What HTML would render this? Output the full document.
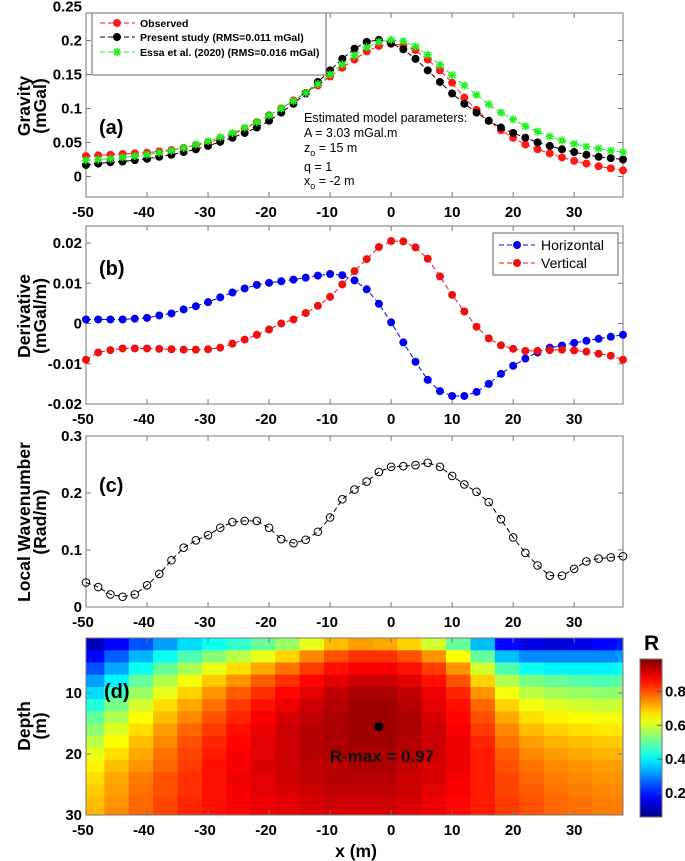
<!DOCTYPE html>
<html><head><meta charset="utf-8">
<style>
html,body{margin:0;padding:0;background:#fff;}
svg{display:block;font-family:"Liberation Sans",Arial,sans-serif;}
</style></head>
<body>
<svg id="fig" width="685" height="861" viewBox="0 0 685 861" xmlns="http://www.w3.org/2000/svg"></svg>
<script>
// ---------- data ----------
const xs = [-50,-48,-46,-44,-42,-40,-38,-36,-34,-32,-30,-28,-26,-24,-22,-20,-18,-16,-14,-12,-10,-8,-6,-4,-2,0,2,4,6,8,10,12,14,16,18,20,22,24,26,28,30,32,34,36,38];
const gObserved = [0.030,0.031,0.032,0.033,0.034,0.035,0.037,0.039,0.042,0.046,0.050,0.055,0.062,0.070,0.080,0.090,0.100,0.112,0.123,0.134,0.147,0.160,0.172,0.184,0.192,0.195,0.193,0.186,0.172,0.156,0.138,0.116,0.098,0.082,0.068,0.057,0.047,0.040,0.034,0.028,0.023,0.019,0.015,0.012,0.009];
const gPresent = [0.017,0.019,0.021,0.022,0.024,0.026,0.029,0.032,0.036,0.040,0.045,0.051,0.057,0.064,0.072,0.082,0.094,0.107,0.122,0.139,0.156,0.173,0.188,0.198,0.201,0.196,0.187,0.173,0.156,0.139,0.122,0.107,0.094,0.082,0.072,0.064,0.057,0.050,0.045,0.040,0.036,0.032,0.029,0.027,0.025];
const gEssa = [0.024,0.025,0.026,0.028,0.030,0.032,0.035,0.038,0.042,0.047,0.052,0.058,0.064,0.072,0.080,0.090,0.100,0.111,0.123,0.136,0.150,0.165,0.178,0.190,0.198,0.201,0.199,0.191,0.179,0.164,0.149,0.134,0.120,0.106,0.094,0.084,0.074,0.066,0.059,0.053,0.048,0.044,0.041,0.038,0.036];
const dHorizontal = [0.001,0.001,0.001,0.001,0.0012,0.0014,0.002,0.0025,0.0035,0.0043,0.0053,0.0065,0.0077,0.0087,0.0096,0.0101,0.0105,0.0109,0.0114,0.0119,0.0123,0.0120,0.0107,0.0085,0.0049,0.0003,-0.0047,-0.0095,-0.014,-0.0168,-0.018,-0.018,-0.017,-0.015,-0.0125,-0.0105,-0.0087,-0.0072,-0.006,-0.0055,-0.0048,-0.0043,-0.0038,-0.0033,-0.0028];
const dVertical = [-0.009,-0.0072,-0.0066,-0.0062,-0.0062,-0.0062,-0.0063,-0.0064,-0.0065,-0.0065,-0.0064,-0.006,-0.005,-0.004,-0.0028,-0.0015,0,0.001,0.0026,0.0044,0.0066,0.0097,0.013,0.016,0.019,0.0205,0.0204,0.0189,0.0161,0.0117,0.0071,0.003,-0.0008,-0.0037,-0.0054,-0.0063,-0.0068,-0.0068,-0.0066,-0.0065,-0.0067,-0.007,-0.0075,-0.008,-0.009];
const wavenumber = [0.043,0.035,0.022,0.018,0.022,0.038,0.058,0.082,0.104,0.117,0.126,0.139,0.149,0.151,0.151,0.139,0.119,0.112,0.118,0.132,0.157,0.189,0.206,0.220,0.237,0.246,0.247,0.249,0.253,0.246,0.230,0.215,0.202,0.184,0.154,0.122,0.095,0.073,0.055,0.055,0.067,0.080,0.085,0.087,0.089];
const heatX = [-49,-45,-41,-37,-33,-29,-25,-21,-17,-13,-9,-5,-1,3,7,11,15,19,23,27,31,35,39];
const heatDepth = [2,4,6,8,10,12,14,16,18,20,22,24,26,28,30];
const heatR = [
[.12,.18,.25,.32,.38,.42,.45,.5,.55,.62,.7,.73,.72,.68,.6,.5,.35,.18,.15,.14,.15,.18,.2],
[.18,.26,.34,.42,.48,.53,.58,.62,.68,.75,.8,.83,.83,.8,.74,.64,.5,.35,.3,.3,.3,.3,.32],
[.25,.33,.42,.5,.56,.62,.67,.72,.77,.82,.86,.88,.88,.86,.82,.74,.6,.48,.42,.4,.4,.4,.42],
[.32,.4,.5,.57,.63,.69,.74,.79,.83,.87,.9,.92,.92,.9,.86,.8,.68,.57,.52,.5,.49,.48,.5],
[.38,.46,.55,.62,.68,.74,.79,.83,.87,.9,.93,.95,.95,.93,.89,.84,.74,.63,.58,.56,.55,.54,.55],
[.44,.52,.6,.67,.72,.77,.82,.86,.89,.92,.94,.96,.96,.94,.9,.86,.78,.68,.63,.61,.6,.59,.6],
[.5,.57,.64,.7,.75,.8,.84,.88,.91,.93,.95,.96,.96,.95,.91,.87,.8,.72,.67,.65,.64,.63,.63],
[.54,.61,.67,.73,.78,.82,.86,.89,.92,.94,.95,.96,.96,.95,.92,.88,.82,.75,.7,.68,.67,.66,.66],
[.58,.64,.7,.75,.8,.84,.87,.9,.92,.94,.95,.96,.96,.94,.92,.89,.84,.77,.73,.71,.7,.69,.69],
[.62,.67,.72,.77,.81,.85,.88,.9,.92,.94,.95,.95,.95,.94,.92,.89,.85,.79,.75,.73,.72,.71,.71],
[.65,.7,.74,.78,.82,.86,.88,.91,.92,.93,.94,.95,.95,.93,.91,.89,.85,.8,.77,.75,.74,.73,.73],
[.67,.72,.76,.8,.83,.86,.89,.9,.92,.93,.94,.94,.94,.92,.91,.88,.85,.81,.78,.76,.75,.74,.74],
[.69,.73,.77,.8,.83,.86,.88,.9,.91,.92,.93,.93,.93,.92,.9,.88,.85,.81,.79,.77,.76,.75,.75],
[.7,.74,.78,.81,.84,.86,.88,.89,.9,.91,.92,.92,.92,.91,.89,.87,.85,.82,.8,.78,.77,.76,.76],
[.71,.75,.78,.81,.84,.86,.87,.89,.9,.91,.91,.91,.91,.9,.89,.87,.85,.82,.8,.78,.77,.76,.76]];
const rMaxPoint = [-2, 15.5];
const xTicks = [-50,-40,-30,-20,-10,0,10,20,30];
const aTicks = [0,0.05,0.1,0.15,0.2,0.25];
const bTicks = [-0.02,-0.01,0,0.01,0.02];
const cTicks = [0,0.1,0.2,0.3];
const dTicks = [10,20,30];
const cbTicks = [0.2,0.4,0.6,0.8];

// ---------- helpers ----------
const NS = "http://www.w3.org/2000/svg";
const svg = document.getElementById('fig');
function mk(tag, attrs, parent){ const e=document.createElementNS(NS,tag); for(const k in attrs) e.setAttribute(k,attrs[k]); (parent||svg).appendChild(e); return e; }
function txt(s, attrs, parent){ const e=mk('text',attrs,parent); e.textContent=s; return e; }
const L=86, R=623;
const X = v => L + (v+50)*(R-L)/88;
function lin(d0,d1,p0,p1){ return v => p0 + (v-d0)*(p1-p0)/(d1-d0); }
const Ya = lin(0,0.25,176.5,6.5);
const Yb = lin(-0.02,0.02,404,243);
const Yc = lin(0,0.3,607,436);
const Yd = lin(10,20,693,754);
const panels = {a:[13,197], b:[226,404], c:[436,607], d:[638,815]};

function jet(v){
  const t = Math.max(0,Math.min(1,(v-0.06)/(0.99-0.06)));
  const r = Math.max(0,Math.min(1,1.5-Math.abs(4*t-3)));
  const g = Math.max(0,Math.min(1,1.5-Math.abs(4*t-2)));
  const b = Math.max(0,Math.min(1,1.5-Math.abs(4*t-1)));
  return `rgb(${Math.round(r*255)},${Math.round(g*255)},${Math.round(b*255)})`;
}

function axes(key, Y, yt, fmt, labelLines, ylabCy, panelLetter, letterPos){
  const [top,bot]=panels[key];
  const g = mk('g',{});
  
  
  const box = mk('rect',{x:L,y:top,width:R-L,height:bot-top,fill:'none',stroke:'#777','stroke-width':1},g);
  
  
  xTicks.forEach(v=>{
    mk('line',{x1:X(v),x2:X(v),y1:bot,y2:bot-5,stroke:'#777'},g);
    mk('line',{x1:X(v),x2:X(v),y1:top,y2:top+5,stroke:'#777'},g);
    const t = txt(String(v),{x:X(v)-(v<0?3:0),y:bot+20,'font-size':15,'font-weight':'bold','text-anchor':'middle'},g);
    
    
  });
  yt.forEach(v=>{
    const y=Y(v);
    if(y>=top-0.5 && y<=bot+0.5){
      mk('line',{x1:L,x2:L+5,y1:y,y2:y,stroke:'#777'},g);
      mk('line',{x1:R,x2:R-5,y1:y,y2:y,stroke:'#777'},g);
    }
    const t = txt(fmt(v),{x:L-4,y:y+5,'font-size':15,'font-weight':'bold','text-anchor':'end'},g);
    
    
  });
  const yl = mk('text',{transform:`translate(0,${ylabCy}) rotate(-90)`,'font-size':17.5,'font-weight':'bold','text-anchor':'middle'},g);
  
  
  labelLines.forEach((s,i)=>{ const ts=mk('tspan',{x:0,y:30+i*16},yl); ts.textContent=s; });
  const pl = txt(panelLetter,{x:letterPos[0],y:letterPos[1],'font-size':20,'font-weight':'bold'},g);
  
  
  return g;
}
const f2 = v => v===0?'0':String(v);

// ---------- panel d heatmap ----------
const gd = axes('d', Yd, dTicks, f2, ['Depth','(m)'], 726, '', [0,0]);
const heat = mk('g',{});  
svg.insertBefore(heat, gd);
const cp = mk('clipPath',{id:'clipd'}); mk('rect',{x:L,y:panels.d[0],width:R-L,height:panels.d[1]-panels.d[0]},cp);
heat.setAttribute('clip-path','url(#clipd)');
heatDepth.forEach((dep,j)=>{
  heatX.forEach((xv,i)=>{
    const x0=X(xv-2), x1=X(xv+2), y0=Yd(dep-1), y1=Yd(dep+1);
    const c = mk('rect',{x:x0,y:y0,width:x1-x0+0.6,height:y1-y0+0.6,fill:jet(heatR[j][i])},heat);
    
    
  });
});
const dl = txt('(d)',{x:104,y:698,'font-size':20,'font-weight':'bold'});
 
const dot = mk('circle',{cx:X(rMaxPoint[0]),cy:Yd(rMaxPoint[1]),r:4.5,fill:'#000'});
 
const rm = txt('R-max = 0.97',{x:382,y:762,'font-size':17,'text-anchor':'middle','font-weight':'bold','fill':'#111'});
 
const xt = txt('x (m)',{x:356,y:857,'font-size':17.5,'font-weight':'bold','text-anchor':'middle'});
 

// colorbar
const defs = mk('defs',{});
const lg = mk('linearGradient',{id:'jetg',x1:0,y1:1,x2:0,y2:0},defs);
for(let i=0;i<=20;i++){ const v=0.06+i*(0.93/20); mk('stop',{offset:(i/20),'stop-color':jet(v)},lg); }
const cbTop=659, cbBot=817;
const Ycb = lin(0.06,0.99,cbBot,cbTop);
const cb = mk('rect',{x:640,y:cbTop,width:22,height:cbBot-cbTop,fill:'url(#jetg)',stroke:'#777'});
 
cbTicks.forEach(v=>{
  mk('line',{x1:657,x2:662,y1:Ycb(v),y2:Ycb(v),stroke:'#555'});
  const t=txt(String(v),{x:665,y:Ycb(v)+5,'font-size':15,'font-weight':'bold'});
   
});
const rt = txt('R',{x:644,y:650,'font-size':21,'font-weight':'bold'});
 

// ---------- series helper ----------
function series(Y, vals, color, name, marker){
  const g = mk('g',{});
  
  
  const pts = xs.map((x,i)=>X(x)+','+Y(vals[i])).join(' ');
  mk('polyline',{points:pts,fill:'none',stroke:color,'stroke-width':1,'stroke-dasharray':'5,3'},g);
  xs.forEach((x,i)=>{
    const cx=X(x), cy=Y(vals[i]);
    let m;
    if(marker==='dot') m=mk('circle',{cx,cy,r:4,fill:color},g);
    else if(marker==='open') m=mk('circle',{cx,cy,r:3.8,fill:'none',stroke:color,'stroke-width':1},g);
    else { m=mk('path',{d:`M${cx-4},${cy}H${cx+4}M${cx},${cy-4}V${cy+4}M${cx-3},${cy-3}L${cx+3},${cy+3}M${cx-3},${cy+3}L${cx+3},${cy-3}`,stroke:color,'stroke-width':1.6},g); }
    
    
  });
}

// ---------- panel a ----------
axes('a', Ya, aTicks, f2, ['Gravity','(mGal)'], 106, '(a)', [99,134]);
series(Ya, gObserved, '#ff1a1a', 'series-observed', 'dot');
series(Ya, gPresent, '#000', 'series-present-study', 'dot');
series(Ya, gEssa, '#22ee22', 'series-essa-2020', 'star');
const legA = mk('g',{});  
mk('rect',{x:92,y:13,width:234,height:62,fill:'#fff',stroke:'#666'},legA);
[['Observed','#ff1a1a','dot',23],['Present study (RMS=0.011 mGal)','#000','dot',37],['Essa et al. (2020) (RMS=0.016 mGal)','#22ee22','star',52]].forEach(e=>{
  const g=mk('g',{},legA);  
  mk('line',{x1:100,x2:135,y1:e[3],y2:e[3],stroke:e[1],'stroke-dasharray':'5,3'},g);
  if(e[2]==='dot') mk('circle',{cx:117,cy:e[3],r:4,fill:e[1]},g);
  else mk('path',{d:`M113,${e[3]}H121M117,${e[3]-4}V${e[3]+4}M114,${e[3]-3}L120,${e[3]+3}M114,${e[3]+3}L120,${e[3]-3}`,stroke:e[1],'stroke-width':1.6},g);
  txt(e[0],{x:140,y:e[3]+4,'font-size':10.5,'font-weight':'bold'},g);
});
const ann = mk('g',{});  
txt('Estimated model parameters:',{x:304,y:122,'font-size':12.5},ann);
txt('A = 3.03 mGal.m',{x:304,y:137,'font-size':12.5},ann);
const z=txt('z',{x:304,y:152,'font-size':12.5},ann); const zs=mk('tspan',{'font-size':9,dy:4},z); zs.textContent='o'; const zr=mk('tspan',{dy:-4},z); zr.textContent=' = 15 m';
txt('q = 1',{x:304,y:171,'font-size':12.5},ann);
const xo=txt('x',{x:304,y:185,'font-size':12.5},ann); const xos=mk('tspan',{'font-size':9,dy:4},xo); xos.textContent='o'; const xor=mk('tspan',{dy:-4},xo); xor.textContent=' = -2 m';

// ---------- panel b ----------
axes('b', Yb, bTicks, f2, ['Derivative','(mGal/m)'], 316, '(b)', [99,275]);
series(Yb, dHorizontal, '#0000ee', 'series-horizontal', 'dot');
series(Yb, dVertical, '#ee1111', 'series-vertical', 'dot');
const legB = mk('g',{});  
mk('rect',{x:493,y:233,width:125,height:42,fill:'#fff',stroke:'#666'},legB);
[['Horizontal','#0000ee',245],['Vertical','#ee1111',263]].forEach(e=>{
  const g=mk('g',{},legB);  
  mk('line',{x1:499,x2:535,y1:e[2],y2:e[2],stroke:e[1],'stroke-dasharray':'5,3'},g);
  mk('circle',{cx:517,cy:e[2],r:4,fill:e[1]},g);
  txt(e[0],{x:541,y:e[2]+5,'font-size':14},g);
});

// ---------- panel c ----------
axes('c', Yc, cTicks, f2, ['Local Wavenumber','(Rad/m)'], 522, '(c)', [99,492]);
series(Yc, wavenumber, '#000', 'series-local-wavenumber', 'open');
</script>
</body></html>
